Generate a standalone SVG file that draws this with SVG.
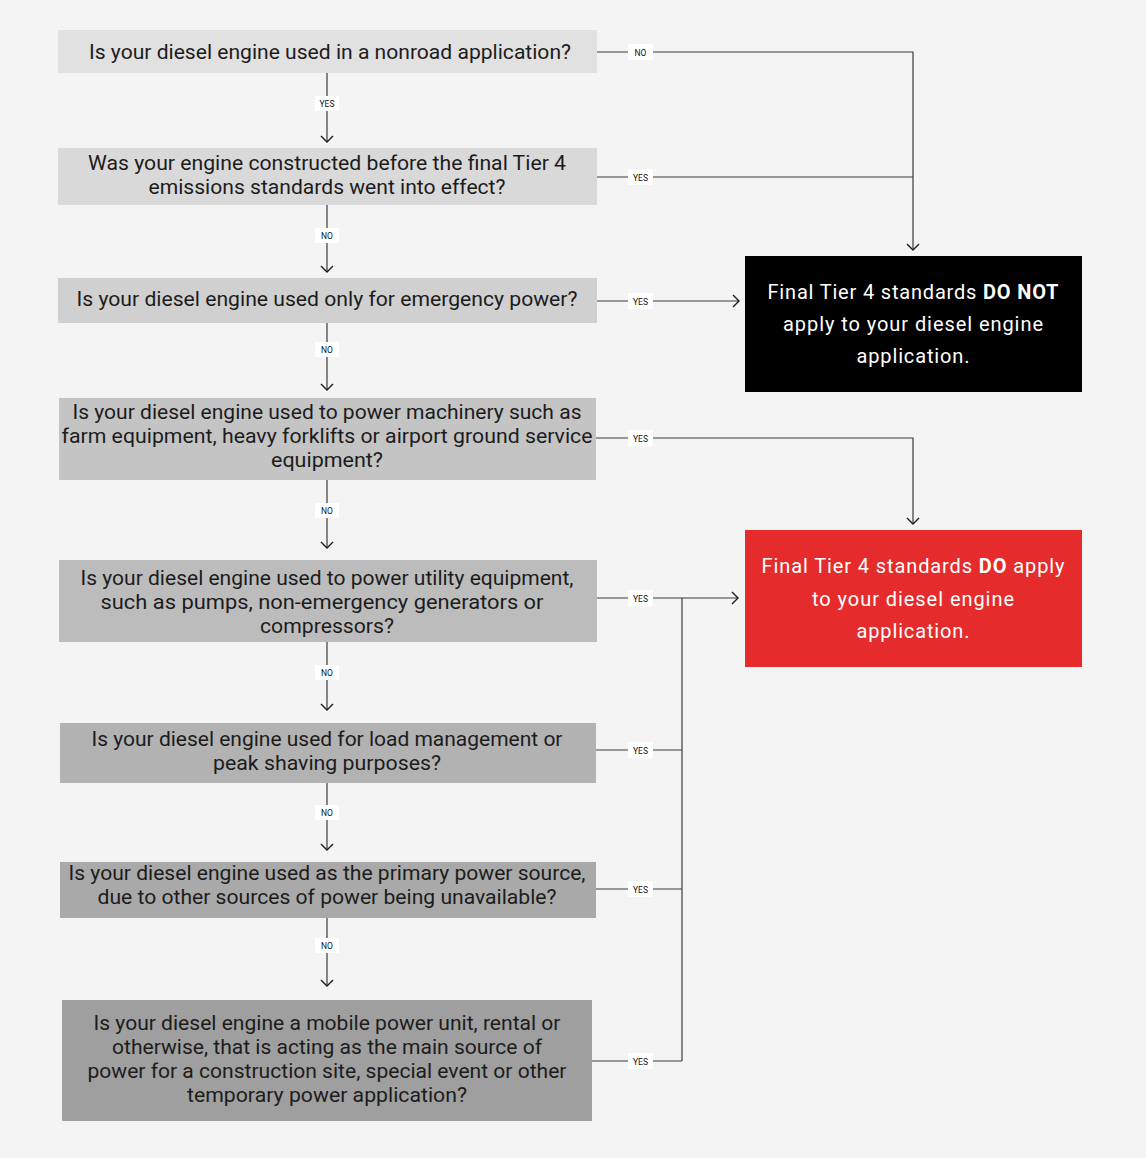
<svg xmlns="http://www.w3.org/2000/svg" width="1146" height="1158" viewBox="0 0 1146 1158">
<defs>
<style>
.q{font-family:Roboto,"Liberation Sans",sans-serif;font-size:20px;fill:#1c1c1c;text-anchor:middle}
.r{font-family:Roboto,"Liberation Sans",sans-serif;font-size:20px;fill:#ffffff;text-anchor:middle}
.b{font-weight:bold}
.c{fill:none;stroke:#3a3a3a;stroke-width:1.2}
.lb{fill:#ffffff}
.lt{font-family:Roboto,"Liberation Sans",sans-serif;font-size:8.5px;fill:#111;text-anchor:middle}
</style>
<marker id="ah" viewBox="-8 -8 10 16" markerWidth="10" markerHeight="16" refX="0" refY="0" orient="auto" markerUnits="userSpaceOnUse">
<path d="M-6,-6 L0,0 L-6,6" fill="none" stroke="#1c1c1c" stroke-width="1.4"/>
</marker>
</defs>
<rect x="0" y="0" width="1146" height="1158" fill="#f4f4f4"/>

<g id="connectors">
<path class="c" d="M327,73 V142" marker-end="url(#ah)"/>
<path class="c" d="M327,205 V272" marker-end="url(#ah)"/>
<path class="c" d="M327,323 V390" marker-end="url(#ah)"/>
<path class="c" d="M327,480 V548" marker-end="url(#ah)"/>
<path class="c" d="M327,642 V710" marker-end="url(#ah)"/>
<path class="c" d="M327,783 V850" marker-end="url(#ah)"/>
<path class="c" d="M327,918 V986" marker-end="url(#ah)"/>
<path class="c" d="M597,52 H913 V250" marker-end="url(#ah)"/>
<path class="c" d="M597,177 H913"/>
<path class="c" d="M597,301 H739" marker-end="url(#ah)"/>
<path class="c" d="M596,438 H913 V524" marker-end="url(#ah)"/>
<path class="c" d="M597,598 H738" marker-end="url(#ah)"/>
<path class="c" d="M682,598 V1061"/>
<path class="c" d="M596,750 H682"/>
<path class="c" d="M596,889 H682"/>
<path class="c" d="M592,1061 H682"/>
<g id="labels">
<rect class="lb" x="315" y="96" width="24" height="15"/><text class="lt" x="327" y="106.5">YES</text>
<rect class="lb" x="315" y="228" width="24" height="15"/><text class="lt" x="327" y="238.5">NO</text>
<rect class="lb" x="315" y="342" width="24" height="15"/><text class="lt" x="327" y="352.5">NO</text>
<rect class="lb" x="315" y="503" width="24" height="15"/><text class="lt" x="327" y="513.5">NO</text>
<rect class="lb" x="315" y="665" width="24" height="15"/><text class="lt" x="327" y="675.5">NO</text>
<rect class="lb" x="315" y="805" width="24" height="15"/><text class="lt" x="327" y="815.5">NO</text>
<rect class="lb" x="315" y="938" width="24" height="15"/><text class="lt" x="327" y="948.5">NO</text>
<rect class="lb" x="628" y="44" width="25" height="16"/><text class="lt" x="640.5" y="55.5">NO</text>
<rect class="lb" x="628" y="169" width="25" height="16"/><text class="lt" x="640.5" y="180.5">YES</text>
<rect class="lb" x="628" y="293" width="25" height="16"/><text class="lt" x="640.5" y="304.5">YES</text>
<rect class="lb" x="628" y="430" width="25" height="16"/><text class="lt" x="640.5" y="441.5">YES</text>
<rect class="lb" x="628" y="590" width="25" height="16"/><text class="lt" x="640.5" y="601.5">YES</text>
<rect class="lb" x="628" y="742" width="25" height="16"/><text class="lt" x="640.5" y="753.5">YES</text>
<rect class="lb" x="628" y="881" width="25" height="16"/><text class="lt" x="640.5" y="892.5">YES</text>
<rect class="lb" x="628" y="1053" width="25" height="16"/><text class="lt" x="640.5" y="1064.5">YES</text>
</g>
</g>

<g id="q1">
<rect x="58" y="30" width="539" height="43" fill="#e1e1e1"/>
<text class="q" x="330" y="59" textLength="482" lengthAdjust="spacingAndGlyphs">Is your diesel engine used in a nonroad application?</text>
</g>
<g id="q2">
<rect x="58" y="148" width="539" height="57" fill="#d9d9d9"/>
<text class="q" x="327" y="170" textLength="478" lengthAdjust="spacingAndGlyphs">Was your engine constructed before the final Tier 4</text>
<text class="q" x="327" y="194" textLength="357" lengthAdjust="spacingAndGlyphs">emissions standards went into effect?</text>
</g>
<g id="q3">
<rect x="58" y="278" width="539" height="45" fill="#d0d0d0"/>
<text class="q" x="327" y="306" textLength="501" lengthAdjust="spacingAndGlyphs">Is your diesel engine used only for emergency power?</text>
</g>
<g id="q4">
<rect x="59" y="398" width="537" height="82" fill="#c4c4c4"/>
<text class="q" x="327" y="419" textLength="509" lengthAdjust="spacingAndGlyphs">Is your diesel engine used to power machinery such as</text>
<text class="q" x="327" y="443" textLength="531" lengthAdjust="spacingAndGlyphs">farm equipment, heavy forklifts or airport ground service</text>
<text class="q" x="327" y="467" textLength="112" lengthAdjust="spacingAndGlyphs">equipment?</text>
</g>
<g id="q5">
<rect x="59" y="560" width="538" height="82" fill="#bcbcbc"/>
<text class="q" x="327" y="585" textLength="493" lengthAdjust="spacingAndGlyphs">Is your diesel engine used to power utility equipment,</text>
<text class="q" x="322" y="609" textLength="443" lengthAdjust="spacingAndGlyphs">such as pumps, non-emergency generators or</text>
<text class="q" x="327" y="633" textLength="134" lengthAdjust="spacingAndGlyphs">compressors?</text>
</g>
<g id="q6">
<rect x="60" y="723" width="536" height="60" fill="#b2b2b2"/>
<text class="q" x="327" y="746" textLength="471" lengthAdjust="spacingAndGlyphs">Is your diesel engine used for load management or</text>
<text class="q" x="327" y="770" textLength="228" lengthAdjust="spacingAndGlyphs">peak shaving purposes?</text>
</g>
<g id="q7">
<rect x="60" y="862" width="536" height="56" fill="#a9a9a9"/>
<text class="q" x="327" y="880" textLength="517" lengthAdjust="spacingAndGlyphs">Is your diesel engine used as the primary power source,</text>
<text class="q" x="327" y="904" textLength="459" lengthAdjust="spacingAndGlyphs">due to other sources of power being unavailable?</text>
</g>
<g id="q8">
<rect x="62" y="1000" width="530" height="121" fill="#9f9f9f"/>
<text class="q" x="327" y="1030" textLength="467" lengthAdjust="spacingAndGlyphs">Is your diesel engine a mobile power unit, rental or</text>
<text class="q" x="327" y="1054" textLength="430" lengthAdjust="spacingAndGlyphs">otherwise, that is acting as the main source of</text>
<text class="q" x="327" y="1078" textLength="479" lengthAdjust="spacingAndGlyphs">power for a construction site, special event or other</text>
<text class="q" x="327" y="1102" textLength="280" lengthAdjust="spacingAndGlyphs">temporary power application?</text>
</g>
<g id="notApply">
<rect x="745" y="256" width="337" height="136" fill="#000000"/>
<text class="r" x="913" y="299" textLength="291" lengthAdjust="spacing">Final Tier 4 standards <tspan class="b">DO NOT</tspan></text>
<text class="r" x="913" y="331" textLength="260" lengthAdjust="spacing">apply to your diesel engine</text>
<text class="r" x="913" y="363" textLength="113" lengthAdjust="spacing">application.</text>
</g>
<g id="apply">
<rect x="745" y="530" width="337" height="137" fill="#e52b2c"/>
<text class="r" x="913" y="573" textLength="303" lengthAdjust="spacing">Final Tier 4 standards <tspan class="b">DO</tspan> apply</text>
<text class="r" x="913" y="606" textLength="202" lengthAdjust="spacing">to your diesel engine</text>
<text class="r" x="913" y="638" textLength="113" lengthAdjust="spacing">application.</text>
</g>
</svg>
